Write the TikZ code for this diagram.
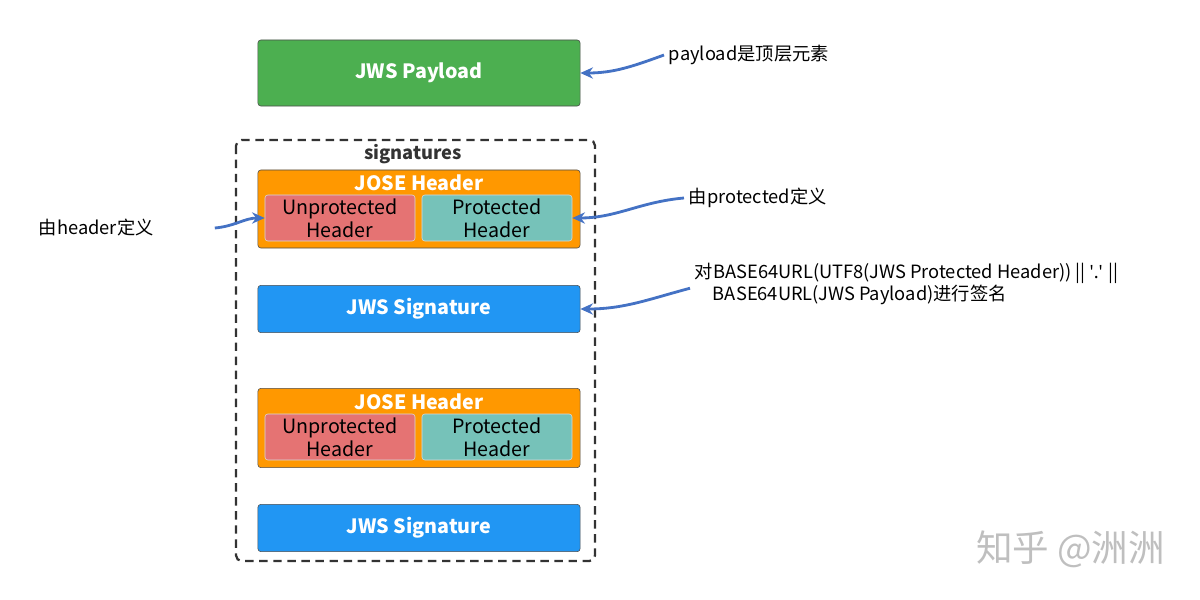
\documentclass[tikz,border=0pt]{standalone}
\usepackage{fontspec}
\setmainfont{Noto Sans CJK SC}
\newfontfamily\latinfont{Noto Sans}
\usetikzlibrary{arrows.meta, positioning}
\definecolor{payloadcolor}{RGB}{76, 175, 80}
\definecolor{headercolor}{RGB}{255, 152, 0}
\definecolor{unprotcolor}{RGB}{229, 115, 115}
\definecolor{protcolor}{RGB}{118, 194, 185}
\definecolor{sigcolor}{RGB}{33, 150, 243}
\definecolor{notecolor}{RGB}{68, 114, 196}

\begin{document}
\begin{tikzpicture}[
    x=0.025cm, y=-0.025cm,
    block/.style={rectangle, draw=black!70, rounded corners=2pt, minimum width=8.05cm, align=center, text=white, font=\fontsize{14}{16}\selectfont\bfseries},
    inner/.style={rectangle, draw=white!85!black, rounded corners=2pt, minimum width=3.75cm, minimum height=1.15cm, align=center, inner sep=0pt, font=\fontsize{14}{16.5}\selectfont},
    note/.style={align=left, anchor=west, font=\fontsize{13}{15}\selectfont},
    arrow/.style={-{Stealth[length=9pt, width=8pt]}, notecolor, line width=2pt},
]
\useasboundingbox (0,0) rectangle (1200,599);

% Payload
\node[block, fill=payloadcolor, minimum height=1.65cm] (payload) at (419,73) {JWS Payload};

% signatures container
\draw[dash pattern=on 6pt off 4pt, line width=1.6pt, rounded corners=4pt, black!80] (236,140) rectangle (595,561);
\node[font=\fontsize{13}{15}\selectfont\bfseries, text=black!80] (siglabel) at (413,154) {signatures};

% first signature
\node[block, fill=headercolor, minimum height=1.95cm] (header1) at (419,209) {};
\node[text=white, font=\fontsize{14}{16}\selectfont\bfseries] (title1) at (419,183) {JOSE Header};
\node[inner, fill=unprotcolor] (unprot1) at (340,218) {Unprotected\\Header};
\node[inner, fill=protcolor] (prot1) at (497,218) {Protected\\Header};
\node[block, fill=sigcolor, minimum height=1.18cm] (sig1) at (419,309) {JWS Signature};

% second signature
\node[block, fill=headercolor, minimum height=1.98cm] (header2) at (419,428) {};
\node[text=white, font=\fontsize{14}{16}\selectfont\bfseries] (title2) at (419,402) {JOSE Header};
\node[inner, fill=unprotcolor] (unprot2) at (340,437) {Unprotected\\Header};
\node[inner, fill=protcolor] (prot2) at (497,437) {Protected\\Header};
\node[block, fill=sigcolor, minimum height=1.18cm] (sig2) at (419,528) {JWS Signature};

% notes
\node[note] (payloadnote) at (664,55) {payload是顶层元素};
\node[note] (headernote) at (34,228) {由header定义};
\node[note] (protnote) at (684,198) {由protected定义};
\node[note, font=\fontsize{13}{16}\selectfont] (signote) at (690,284) {对BASE64URL(UTF8(JWS Protected Header)) || {\latinfont\char"27.\char"27} ||\\\hspace*{0.45cm}BASE64URL(JWS Payload)进行签名};
\node[font=\fontsize{26}{28}\selectfont, text=black!25, anchor=east] (mark) at (1170,549) {知乎 @洲洲};

% arrows
\draw[arrow] (payloadnote.west) to[out=200, in=0] (payload.east);
\draw[arrow] ([xshift=40]headernote.east) to[out=5, in=180] (unprot1.west);
\draw[arrow] (protnote.west) to[out=185, in=0] (prot1.east);
\draw[arrow] ([yshift=-3]signote.west) to[out=195, in=0] (sig1.east);

\end{tikzpicture}
\end{document}
